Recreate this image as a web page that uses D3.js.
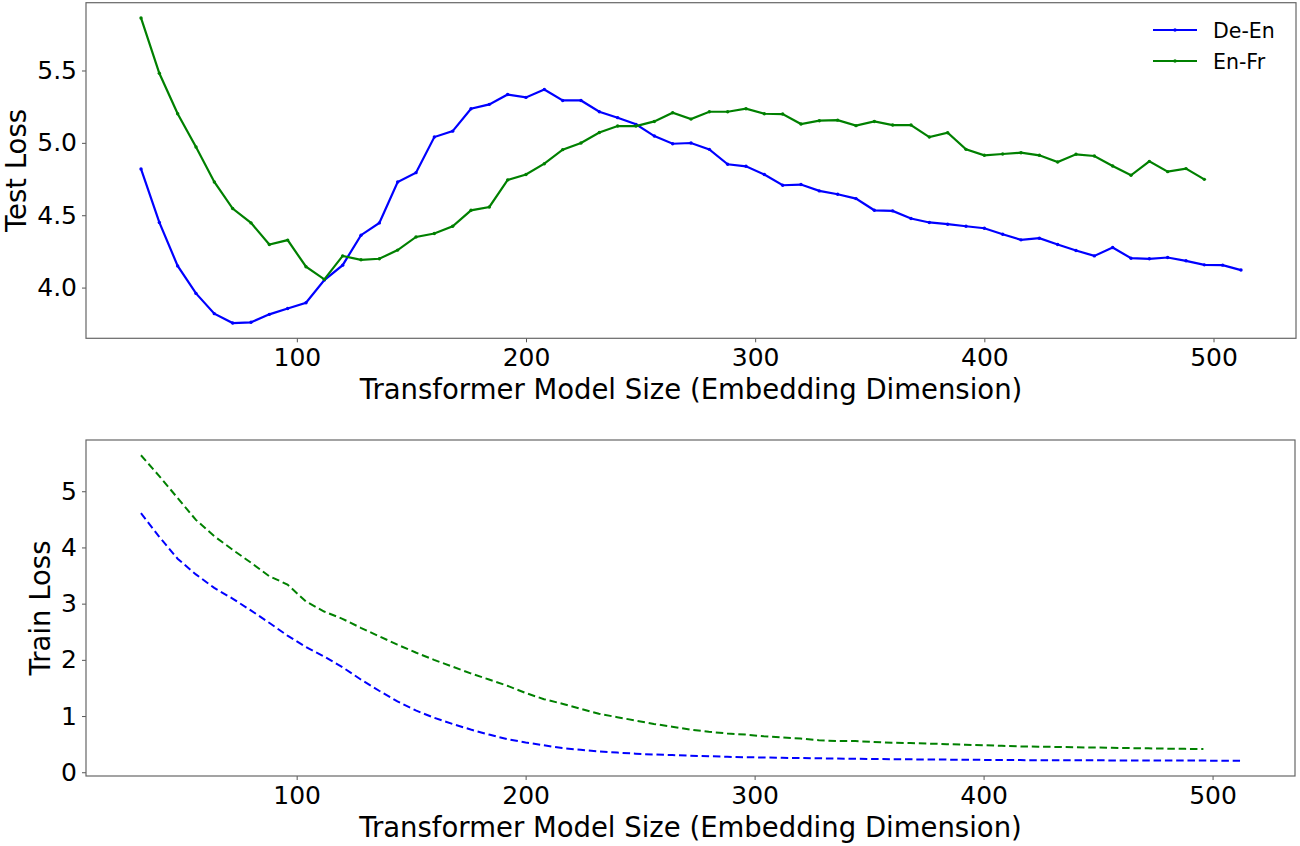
<!DOCTYPE html>
<html>
<head>
<meta charset="utf-8">
<script src="https://cdn.jsdelivr.net/npm/d3@7"></script>
<style>
  body { margin: 0; background: #fff; }
  text { font-family: "DejaVu Sans", sans-serif; fill: #000; }
</style>
</head>
<body>
<div id="chart"></div>
<script>
// Embedding dimensions 32..512, step 8
const sizesDeEn = d3.range(32, 513, 8);
const sizesEnFr = d3.range(32, 497, 8);

// Test loss (top panel)
const testDeEn = [4.82, 4.45, 4.15, 3.96, 3.82, 3.755, 3.76, 3.815, 3.856, 3.895,
  4.052, 4.155, 4.362, 4.447, 4.73, 4.794, 5.04, 5.081, 5.236, 5.266,
  5.334, 5.314, 5.369, 5.293, 5.293, 5.215, 5.174, 5.128, 5.047, 4.994,
  4.999, 4.955, 4.852, 4.838, 4.781, 4.707, 4.712, 4.668, 4.645, 4.615,
  4.534, 4.53, 4.477, 4.45, 4.438, 4.424, 4.41, 4.369, 4.33, 4.341,
  4.298, 4.256, 4.219, 4.277, 4.203, 4.199, 4.208, 4.185, 4.157, 4.155, 4.121];
const testEnFr = [5.863, 5.481, 5.201, 4.971, 4.73, 4.546, 4.447, 4.298, 4.328, 4.144,
  4.057, 4.219, 4.192, 4.199, 4.259, 4.35, 4.374, 4.424, 4.534, 4.557,
  4.744, 4.781, 4.856, 4.953, 4.999, 5.072, 5.116, 5.116, 5.148, 5.208,
  5.164, 5.215, 5.215, 5.236, 5.201, 5.199, 5.13, 5.153, 5.157, 5.119,
  5.148, 5.123, 5.123, 5.04, 5.07, 4.955, 4.914, 4.923, 4.932, 4.914,
  4.868, 4.921, 4.909, 4.84, 4.776, 4.872, 4.801, 4.822, 4.748];

// Train loss (bottom panel)
const trainDeEn = [4.61, 4.19, 3.8, 3.52, 3.28, 3.09, 2.88, 2.66, 2.43, 2.23,
  2.06, 1.87, 1.65, 1.45, 1.26, 1.1, 0.97, 0.86, 0.76, 0.67,
  0.59, 0.53, 0.48, 0.43, 0.4, 0.37, 0.35, 0.33, 0.315, 0.305,
  0.295, 0.285, 0.275, 0.268, 0.262, 0.257, 0.252, 0.248, 0.244, 0.24,
  0.236, 0.233, 0.23, 0.227, 0.225, 0.222, 0.22, 0.218, 0.216, 0.215,
  0.214, 0.213, 0.212, 0.211, 0.21, 0.209, 0.208, 0.207, 0.207, 0.206, 0.205];
const trainEnFr = [5.64, 5.27, 4.88, 4.49, 4.2, 3.96, 3.73, 3.49, 3.34, 3.04,
  2.86, 2.73, 2.57, 2.42, 2.27, 2.13, 2.0, 1.88, 1.76, 1.65,
  1.54, 1.41, 1.3, 1.22, 1.13, 1.04, 0.98, 0.92, 0.86, 0.81,
  0.76, 0.72, 0.69, 0.67, 0.64, 0.62, 0.6, 0.57, 0.556, 0.555,
  0.54, 0.525, 0.52, 0.51, 0.5, 0.49, 0.48, 0.47, 0.46, 0.455,
  0.45, 0.445, 0.44, 0.435, 0.43, 0.425, 0.42, 0.416, 0.414];

const xTicks = [100, 200, 300, 400, 500];
const testTicks = [4.0, 4.5, 5.0, 5.5];
const trainTicks = [0, 1, 2, 3, 4, 5];
const seriesNames = ["De-En", "En-Fr"];
const seriesColors = ["#0000ff", "#008000"];
const xLabel = "Transformer Model Size (Embedding Dimension)";

const W = 1300, H = 846;
const svg = d3.select("#chart").append("svg")
    .attr("width", W).attr("height", H);

// matplotlib-style 5% margins around the data
function padded(vals) {
    const [lo, hi] = d3.extent(vals);
    const m = (hi - lo) * 0.05;
    return [lo - m, hi + m];
}

const xDomain = padded(sizesDeEn);

function panel(box, series, yTicks, yFmt, yLabel, yLabelOffset, dashed) {
    const x = d3.scaleLinear().domain(xDomain).range([box.left, box.right]);
    const y = d3.scaleLinear()
        .domain(padded(series.flatMap(s => s.values)))
        .range([box.bottom, box.top]);

    const g = svg.append("g");

    // x axis
    const xa = g.append("g")
        .attr("transform", `translate(0,${box.bottom})`)
        .call(d3.axisBottom(x).tickValues(xTicks).tickSize(4).tickPadding(6).tickFormat(d3.format("d")));
    xa.select(".domain").remove();
    xa.selectAll("line").attr("stroke", "#555");
    xa.selectAll("text").style("font-size", "25px").attr("font-family", "DejaVu Sans");

    // y axis
    const ya = g.append("g")
        .attr("transform", `translate(${box.left},0)`)
        .call(d3.axisLeft(y).tickValues(yTicks).tickSize(4).tickPadding(5).tickFormat(yFmt));
    ya.select(".domain").remove();
    ya.selectAll("line").attr("stroke", "#555");
    ya.selectAll("text").style("font-size", "25px").attr("font-family", "DejaVu Sans");

    // frame
    g.append("rect")
        .attr("x", box.left).attr("y", box.top)
        .attr("width", box.right - box.left).attr("height", box.bottom - box.top)
        .attr("fill", "none").attr("stroke", "#666").attr("stroke-width", 1.2);

    // labels
    g.append("text")
        .attr("x", (box.left + box.right) / 2)
        .attr("y", box.bottom + 61)
        .attr("text-anchor", "middle")
        .style("font-size", "27.5px")
        .text(xLabel);

    g.append("text")
        .attr("transform", `translate(${box.left - yLabelOffset},${(box.top + box.bottom) / 2}) rotate(-90)`)
        .attr("text-anchor", "middle")
        .style("font-size", "27.5px")
        .text(yLabel);

    const line = d3.line().x(d => x(d[0])).y(d => y(d[1]));

    series.forEach(s => {
        const pts = s.sizes.map((v, i) => [v, s.values[i]]);
        g.append("path")
            .datum(pts)
            .attr("fill", "none")
            .attr("stroke", s.color)
            .attr("stroke-width", dashed ? 2 : 2.2)
            .attr("stroke-dasharray", dashed ? "7.5,3.8" : null)
            .attr("d", line);
        if (!dashed) {
            g.selectAll(null)
                .data(pts)
                .enter()
                .append("circle")
                .attr("cx", d => x(d[0]))
                .attr("cy", d => y(d[1]))
                .attr("r", 1.7)
                .attr("fill", s.color);
        }
    });
    return g;
}

const topPanel = panel({left: 86, right: 1296, top: 2.7, bottom: 338.3},
    [{sizes: sizesDeEn, values: testDeEn, color: seriesColors[0]},
     {sizes: sizesEnFr, values: testEnFr, color: seriesColors[1]}],
    testTicks, d3.format(".1f"), "Test Loss", 60, false);

panel({left: 86, right: 1295, top: 440, bottom: 776},
    [{sizes: sizesDeEn, values: trainDeEn, color: seriesColors[0]},
     {sizes: sizesEnFr, values: trainEnFr, color: seriesColors[1]}],
    trainTicks, d3.format("d"), "Train Loss", 36, true);

// legend (top panel, upper right, no frame)
const legend = topPanel.append("g");
seriesNames.forEach((name, i) => {
    const ly = 30 + i * 31;
    legend.append("line")
        .attr("x1", 1153).attr("x2", 1197)
        .attr("y1", ly).attr("y2", ly)
        .attr("stroke", seriesColors[i]).attr("stroke-width", 2.2);
    legend.append("circle")
        .attr("cx", 1175).attr("cy", ly).attr("r", 1.7)
        .attr("fill", seriesColors[i]);
    legend.append("text")
        .attr("x", 1213).attr("y", ly + 8)
        .style("font-size", "20.5px")
        .text(name);
});
</script>
</body>
</html>
